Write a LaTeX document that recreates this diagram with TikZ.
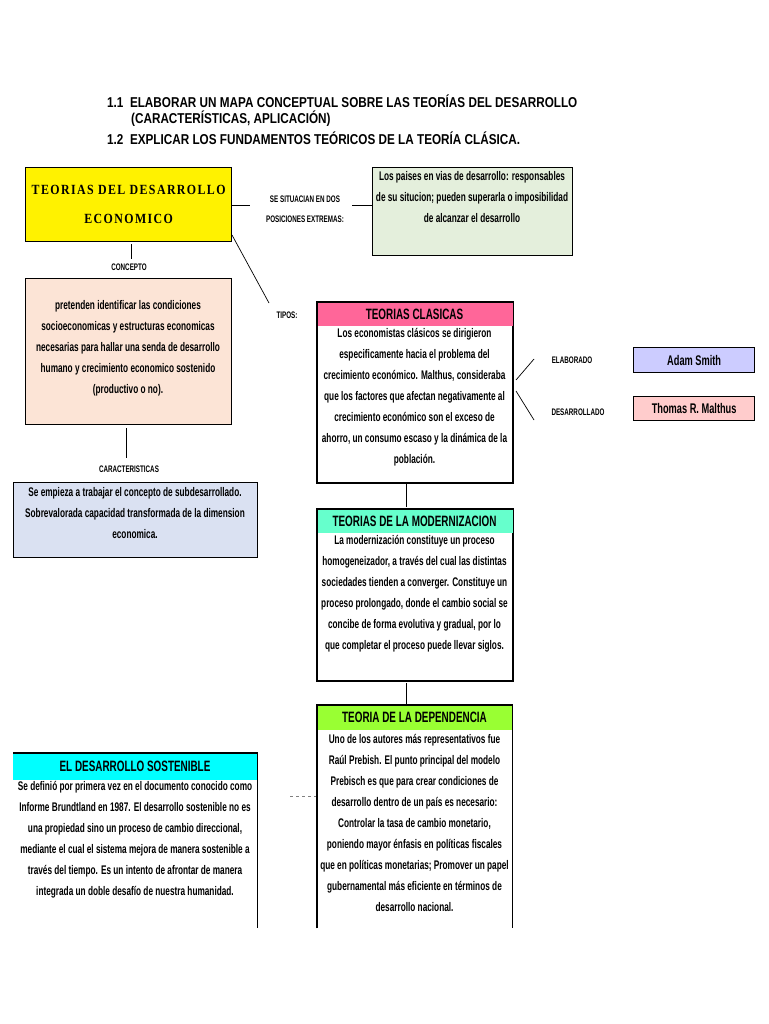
\documentclass[tikz,border=0pt]{standalone}
\usepackage{fontspec}
\setmainfont{Liberation Sans}[FakeStretch=0.66]
\newfontfamily\titlefont{Liberation Sans}[FakeStretch=0.82]
\newfontfamily\headserif{Liberation Serif}[FakeStretch=0.85,LetterSpace=10]
\begin{document}
\begin{tikzpicture}[x=1pt,y=-1pt,
  box/.style={draw, line width=1.3pt, anchor=north west, inner sep=0pt},
  body/.style={anchor=north, align=center, inner sep=0pt, font=\bfseries\fontsize{12.5}{21}\selectfont},
  hdr/.style={anchor=center, inner sep=0pt, font=\bfseries\fontsize{15}{17}\selectfont},
  lab/.style={inner sep=0pt, font=\bfseries\fontsize{9.5}{20}\selectfont, align=center},
  ln/.style={line width=0.7pt}]
\useasboundingbox (0,0) rectangle (768,1024);
\fill[white] (0,0) rectangle (768,1024);
% titles
\node[anchor=west, inner sep=0pt, font=\titlefont\bfseries\fontsize{14.3}{15}\selectfont] (t1) at (107,101) {1.1\ \ ELABORAR UN MAPA CONCEPTUAL SOBRE LAS TEORÍAS DEL DESARROLLO};
\node[anchor=west, inner sep=0pt, font=\titlefont\bfseries\fontsize{14.3}{15}\selectfont] (t2) at (131,119) {(CARACTERÍSTICAS, APLICACIÓN)};
\node[anchor=west, inner sep=0pt, font=\titlefont\bfseries\fontsize{14.3}{15}\selectfont] (t3) at (107,138) {1.2\ \ EXPLICAR LOS FUNDAMENTOS TEÓRICOS DE LA TEORÍA CLÁSICA.};
% yellow
\node[box, fill=yellow, minimum width=206, minimum height=74] (yel) at (25,167) {};
\node[inner sep=0pt, align=center, font=\headserif\bfseries\fontsize{14}{29}\selectfont] (yelt) at (yel.center) {TEORIAS DEL DESARROLLO\\ECONOMICO};
% green
\node[box, fill={rgb,255:red,228;green,239;blue,220}, minimum width=200, minimum height=88] (grn) at (372,167) {};
\node[body] (grnt) at (472,171) {Los paises en vias de desarrollo: responsables\\de su situcion; pueden superarla o imposibilidad\\de alcanzar el desarrollo};
\node[lab] (sit) at (305,209) {SE SITUACIAN EN DOS\\POSICIONES EXTREMAS:};
\coordinate (s1) at (250,205); \coordinate (s2) at (352,205);
\draw[ln] (yel.east|-s1) -- (s1);
\draw[ln] (s2) -- (grn.west|-s2);
% concepto
\node[lab] (con) at (129,267) {CONCEPTO};
\draw[ln] (131,244) -- (131,259);
\node[box, fill={rgb,255:red,252;green,228;blue,214}, minimum width=206, minimum height=146] (pch) at (25,278) {};
\node[body] (pcht) at (128,300) {pretenden identificar las condiciones\\socioeconomicas y estructuras economicas\\necesarias para hallar una senda de desarrollo\\humano y crecimiento economico sostenido\\(productivo o no).};
\node[lab] (car) at (129,469) {CARACTERISTICAS};
\draw[ln] (126,428) -- (126,458);
\node[box, fill={rgb,255:red,218;green,225;blue,242}, minimum width=244, minimum height=75] (blu) at (13,482) {};
\node[body] (blut) at (135,487) {Se empieza a trabajar el concepto de subdesarrollado.\\Sobrevalorada capacidad transformada de la dimension\\economica.};
% tipos
\node[lab] (tip) at (287,315) {TIPOS:};
\draw[ln] (232,235) -- (269,303);
% clasicas
\node[box, minimum width=195, minimum height=180] (cla) at (317,302) {};
\fill[fill={rgb,255:red,255;green,102;blue,153}] (cla.north west) rectangle ([yshift=-24]cla.north east);
\draw[line width=1.3pt] (cla.north west) rectangle (cla.south east);
\node[hdr] (clah) at (414.5,314) {TEORIAS CLASICAS};
\node[body] (clat) at (414.5,328) {Los economistas clásicos se dirigieron\\especificamente hacia el problema del\\crecimiento económico. Malthus, consideraba\\que los factores que afectan negativamente al\\crecimiento económico son el exceso de\\ahorro, un consumo escaso y la dinámica de la\\población.};
\node[lab] (ela) at (572,360) {ELABORADO};
\node[lab] (des) at (578,412) {DESARROLLADO};
\draw[ln] (516,380) -- (534,359);
\draw[ln] (516,391) -- (534,420);
\node[box, fill={rgb,255:red,204;green,204;blue,255}, minimum width=121, minimum height=25] (ada) at (633,347) {};
\node[hdr, font=\bfseries\fontsize{14}{16}\selectfont] (adat) at (ada.center) {Adam Smith};
\node[box, fill={rgb,255:red,255;green,204;blue,204}, minimum width=121, minimum height=24] (tho) at (633,396) {};
\node[hdr, font=\bfseries\fontsize{14}{16}\selectfont] (thot) at (tho.center) {Thomas R. Malthus};
% modernizacion
\node[box, minimum width=195, minimum height=171] (mod) at (317,509) {};
\fill[fill={rgb,255:red,102;green,255;blue,204}] (mod.north west) rectangle ([yshift=-24]mod.north east);
\draw[line width=1.3pt] (mod.north west) rectangle (mod.south east);
\node[hdr] (modh) at (414.5,521) {TEORIAS DE LA MODERNIZACION};
\node[body] (modt) at (414.5,535) {La modernización constituye un proceso\\homogeneizador, a través del cual las distintas\\sociedades tienden a converger. Constituye un\\proceso prolongado, donde el cambio social se\\concibe de forma evolutiva y gradual, por lo\\que completar el proceso puede llevar siglos.};
\draw[ln] (406,484) -- (406,507);
% dependencia
\node[inner sep=0pt, anchor=north west, minimum width=195, minimum height=223] (dep) at (317,705) {};
\fill[fill={rgb,255:red,153;green,255;blue,51}] (dep.north west) rectangle ([yshift=-25]dep.north east);
\draw[line width=1.3pt] (dep.south west) -- (dep.north west) -- (dep.north east) -- (dep.south east);
\node[hdr] (deph) at (414.5,717) {TEORIA DE LA DEPENDENCIA};
\node[body] (dept) at (414.5,734) {Uno de los autores más representativos fue\\Raúl Prebish. El punto principal del modelo\\Prebisch es que para crear condiciones de\\desarrollo dentro de un país es necesario:\\Controlar la tasa de cambio monetario,\\poniendo mayor énfasis en políticas fiscales\\que en políticas monetarias; Promover un papel\\gubernamental más eficiente en términos de\\desarrollo nacional.};
\draw[ln] (406,683) -- (406,705);
% sostenible
\node[inner sep=0pt, anchor=north west, minimum width=244, minimum height=175] (sos) at (13,753) {};
\fill[fill={rgb,255:red,0;green,255;blue,255}] (sos.north west) rectangle ([yshift=-27]sos.north east);
\draw[line width=1.3pt] (sos.north west) -- (sos.north east) -- (sos.south east);
\node[hdr] (sosh) at (135,766) {EL DESARROLLO SOSTENIBLE};
\node[body] (sost) at (135,781) {Se definió por primera vez en el documento conocido como\\Informe Brundtland en 1987. El desarrollo sostenible no es\\una propiedad sino un proceso de cambio direccional,\\mediante el cual el sistema mejora de manera sostenible a\\través del tiempo. Es un intento de afrontar de manera\\integrada un doble desafío de nuestra humanidad.};
\draw[gray, dashed, line width=0.5pt] (290,796) -- (316,796);
\end{tikzpicture}
\end{document}
